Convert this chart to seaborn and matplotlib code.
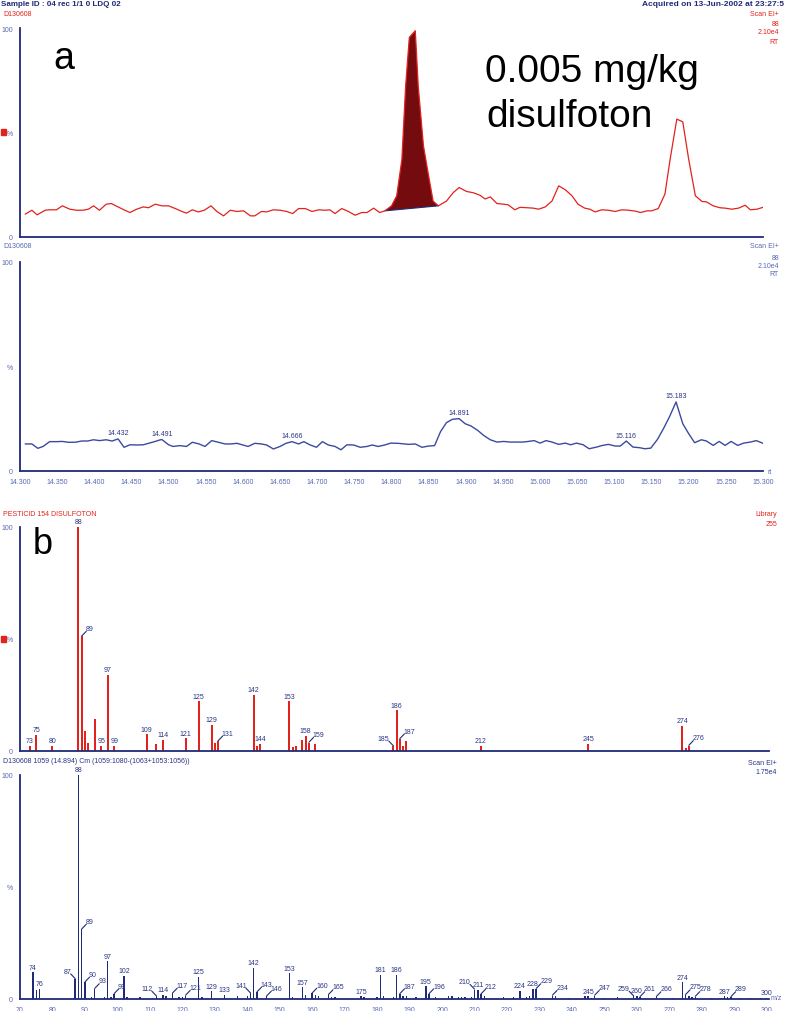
import numpy as np
import pandas as pd
import matplotlib
matplotlib.use("Agg")
import matplotlib.pyplot as plt
from matplotlib.ticker import MultipleLocator, FixedLocator, FuncFormatter
from matplotlib.patches import Rectangle
import seaborn as sns

sns.set_theme(style="white")
plt.rcParams['font.family'] = ['Liberation Sans', 'DejaVu Sans']

# ---------- data ----------
# (a) chromatogram, top trace (library / m/z 88), relative %
red_rt = [14.307, 14.316, 14.323, 14.334, 14.340, 14.349, 14.357, 14.367, 14.376, 14.385,
          14.392, 14.399, 14.407, 14.416, 14.423, 14.432, 14.441, 14.448, 14.457, 14.466,
          14.473, 14.482, 14.491, 14.500, 14.509, 14.518, 14.524, 14.532, 14.540, 14.548,
          14.557, 14.565, 14.574, 14.583, 14.592, 14.601, 14.610, 14.616, 14.625, 14.632,
          14.641, 14.650, 14.659, 14.667, 14.675, 14.684, 14.693, 14.702, 14.711, 14.717,
          14.724, 14.733, 14.742, 14.751, 14.760, 14.767, 14.776, 14.784, 14.791, 14.800,
          14.807, 14.814, 14.819, 14.824, 14.832, 14.836, 14.843, 14.850, 14.856, 14.863,
          14.874, 14.883, 14.891, 14.901, 14.910, 14.919, 14.926, 14.933, 14.942, 14.951,
          14.957, 14.966, 14.973, 14.982, 14.991, 14.998, 15.007, 15.016, 15.025, 15.034,
          15.043, 15.051, 15.060, 15.067, 15.074, 15.083, 15.092, 15.101, 15.110, 15.119,
          15.128, 15.135, 15.144, 15.150, 15.159, 15.168, 15.175, 15.184, 15.192, 15.200,
          15.209, 15.218, 15.224, 15.233, 15.242, 15.249, 15.258, 15.267, 15.276, 15.283,
          15.292, 15.300]
red_int = [10.7, 12.6, 10.4, 12.6, 12.8, 12.8, 14.7, 13.1, 12.6, 12.6,
           13.1, 14.7, 12.6, 15.5, 15.8, 14.2, 12.6, 11.5, 13.1, 14.2,
           13.8, 15.5, 14.7, 14.7, 13.4, 12.0, 11.2, 12.8, 11.8, 12.6,
           14.7, 12.0, 9.9, 12.6, 12.0, 12.3, 9.9, 9.9, 12.0, 11.8,
           12.8, 12.6, 12.0, 11.0, 13.4, 13.4, 12.0, 12.8, 12.6, 12.8,
           11.0, 13.4, 12.0, 10.2, 11.5, 11.5, 13.6, 11.5, 12.3, 14.7,
           19.5, 37.0, 72.0, 95.5, 98.7, 72.0, 43.5, 29.0, 17.0, 14.7,
           17.0, 21.0, 23.5, 21.6, 21.0, 19.8, 18.0, 19.0, 15.8, 15.5,
           15.2, 12.8, 14.0, 13.8, 13.6, 13.1, 14.2, 17.0, 24.3, 22.4,
           19.5, 15.5, 13.6, 13.1, 11.8, 12.8, 12.6, 12.0, 12.8, 12.6,
           12.2, 11.5, 12.3, 12.3, 13.4, 20.3, 37.0, 56.3, 55.0, 37.0,
           19.5, 16.8, 16.6, 14.7, 13.8, 13.6, 13.1, 13.6, 15.0, 12.8,
           13.1, 14.0]
peak_start, peak_end = 14.791, 14.863

# (a) chromatogram, bottom trace (sample / m/z 88)
blue_rt = [14.307, 14.316, 14.324, 14.331, 14.340, 14.349, 14.357, 14.365, 14.374, 14.383,
           14.391, 14.399, 14.407, 14.416, 14.424, 14.432, 14.440, 14.448, 14.457, 14.466,
           14.474, 14.482, 14.488, 14.491, 14.500, 14.506, 14.515, 14.524, 14.532, 14.541,
           14.549, 14.558, 14.567, 14.576, 14.584, 14.592, 14.600, 14.607, 14.616, 14.625,
           14.632, 14.641, 14.650, 14.658, 14.666, 14.675, 14.682, 14.690, 14.699, 14.707,
           14.715, 14.724, 14.732, 14.740, 14.749, 14.758, 14.767, 14.774, 14.782, 14.791,
           14.799, 14.809, 14.823, 14.832, 14.841, 14.850, 14.858, 14.866, 14.874, 14.882,
           14.891, 14.899, 14.907, 14.916, 14.924, 14.933, 14.942, 14.951, 14.960, 14.968,
           14.977, 14.984, 14.992, 15.000, 15.008, 15.016, 15.025, 15.034, 15.041, 15.049,
           15.058, 15.066, 15.076, 15.084, 15.092, 15.101, 15.108, 15.116, 15.125, 15.134,
           15.141, 15.149, 15.158, 15.166, 15.174, 15.183, 15.192, 15.200, 15.208, 15.217,
           15.224, 15.233, 15.241, 15.249, 15.257, 15.266, 15.274, 15.283, 15.291, 15.300]
blue_int = [12.8, 12.8, 10.7, 11.6, 13.9, 13.9, 14.0, 13.6, 13.6, 14.2,
            14.2, 14.8, 14.4, 14.8, 14.2, 15.2, 11.2, 12.4, 12.3, 12.4,
            13.2, 14.0, 14.7, 14.9, 12.4, 11.6, 12.0, 11.6, 13.6, 12.8,
            11.6, 14.4, 13.6, 12.8, 12.8, 13.1, 12.3, 11.6, 13.1, 12.8,
            12.3, 10.4, 11.6, 13.1, 13.9, 12.8, 13.9, 12.4, 11.2, 13.9,
            12.3, 11.6, 10.0, 12.4, 12.3, 11.2, 11.6, 12.3, 11.6, 12.3,
            13.2, 13.1, 12.6, 12.8, 11.2, 11.8, 12.0, 18.7, 23.0, 24.6,
            24.9, 22.5, 21.4, 19.3, 16.9, 14.8, 13.7, 14.0, 13.7, 13.7,
            13.7, 14.0, 14.4, 13.2, 14.4, 13.7, 12.6, 13.2, 12.4, 13.2,
            12.4, 10.5, 11.3, 12.1, 12.6, 11.8, 11.8, 14.2, 11.3, 11.0,
            10.5, 10.8, 15.0, 20.1, 25.7, 32.9, 22.5, 17.7, 13.4, 14.8,
            14.2, 12.1, 14.0, 12.1, 14.0, 12.1, 13.2, 13.7, 14.4, 13.1]
blue_peaks = [14.432, 14.491, 14.666, 14.891, 15.116, 15.183]

# (b) library spectrum of disulfoton
lib_mz = [73, 75, 80, 88, 89, 90, 91, 93, 95, 97, 99, 109, 112, 114, 121, 125, 129, 130, 131,
          142, 143, 144, 153, 154, 155, 157, 158, 159, 161, 185, 186, 187, 188, 189, 212, 245,
          274, 275, 276]
lib_int = [2.0, 7.0, 2.0, 100.0, 51.0, 8.6, 3.4, 14.0, 2.2, 34.0, 2.2, 7.3, 3.0, 5.0, 5.5, 22.0,
           11.5, 3.4, 4.2, 25.0, 2.0, 3.0, 22.0, 1.5, 2.0, 5.0, 6.5, 3.6, 3.0, 2.0, 18.0, 5.2,
           2.0, 4.2, 2.0, 3.0, 11.0, 1.3, 2.2]
lib_labels = [73, 75, 80, 88, 95, 97, 99, 109, 114, 121, 125, 129, 142, 144, 153, 158, 186,
              212, 245, 274]
lib_lead_right = [89, 131, 159, 187, 276]
lib_lead_left = [185]

# (b) sample spectrum, scan 1059 (14.894)
smp_mz = [74, 75, 76, 87, 88, 89, 90, 92, 93, 96, 97, 98, 99, 102, 103, 107, 112, 114, 115,
          117, 119, 120, 121, 125, 126, 129, 133, 137, 140, 141, 142, 143, 146, 153, 154, 157,
          158, 160, 161, 162, 165, 166, 167, 175, 176, 180, 181, 182, 185, 186, 187, 188, 189,
          192, 195, 196, 198, 202, 203, 205, 206, 207, 209, 210, 211, 212, 213, 215, 219, 222,
          224, 226, 227, 228, 229, 231, 234, 235, 239, 244, 245, 246, 247, 250, 254, 259, 260,
          261, 266, 271, 274, 275, 276, 277, 278, 283, 286, 287, 288, 289, 292, 295, 298, 300]
smp_int = [11.9, 4.0, 4.5, 8.9, 100.0, 31.0, 7.4, 0.7, 4.5, 1.0, 16.8, 1.0, 2.2, 10.4, 0.7,
           0.7, 1.2, 1.8, 1.5, 2.5, 0.9, 0.9, 1.5, 9.7, 0.7, 3.4, 1.8, 1.2, 1.5, 2.5, 13.8, 3.0,
           1.2, 11.4, 0.7, 5.2, 1.8, 2.5, 1.9, 1.2, 1.8, 1.0, 1.0, 1.2, 0.9, 0.9, 10.8, 1.5, 1.0,
           10.8, 2.2, 1.5, 1.5, 0.7, 5.6, 2.2, 0.7, 1.5, 1.5, 0.9, 0.9, 0.9, 0.9, 4.2, 4.0, 2.1,
           1.5, 0.6, 0.7, 0.7, 3.7, 1.0, 1.5, 4.5, 4.5, 0.6, 1.5, 1.2, 0.6, 1.2, 1.2, 0.6, 1.5,
           0.6, 0.9, 1.2, 1.5, 0.9, 0.9, 0.6, 7.4, 1.8, 1.2, 0.9, 1.0, 0.6, 0.6, 1.2, 0.9, 0.9,
           0.6, 0.6, 0.6, 0.6]
smp_labels = [74, 76, 88, 97, 102, 114, 125, 129, 133, 142, 153, 157, 175, 181, 186, 195, 211,
              224, 228, 245, 260, 274, 287, 300]
smp_lead_right = [89, 90, 93, 99, 117, 121, 143, 146, 160, 165, 187, 196, 212, 229, 234, 247,
                  261, 266, 275, 278, 289]
smp_lead_left = [87, 112, 141, 210, 259]

# ---------- style ----------
NAVY = '#1f2a78'
TXT = '#2a3585'
LBLUE = '#5a68b4'
BLUE = '#3c4a9e'
RED = '#e2221c'
DARKRED = '#740b0f'

W, H = 785, 1012
fig = plt.figure(figsize=(W / 100, H / 100), dpi=100)


def panel(left, top, bottom, right):
    return fig.add_axes([left / W, 1 - bottom / H, (right - left) / W, (bottom - top) / H])


def ftext(x, y, s, **kw):
    kw.setdefault('va', 'center')
    kw.setdefault('fontsize', 5)
    fig.text(x / W, 1 - y / H, s, **kw)


def style(ax, xlim, major, minor, label_step=None, fmt='{:.0f}'):
    sns.despine(ax=ax)
    for s in ['left', 'bottom']:
        ax.spines[s].set_color(NAVY)
        ax.spines[s].set_linewidth(1.3)
    ax.set_xlim(*xlim)
    ax.set_ylim(0, 100)
    ax.set_xlabel('')
    ax.set_ylabel('')
    ax.yaxis.set_major_locator(FixedLocator(list(range(0, 101, 10))))
    ax.yaxis.set_major_formatter(FuncFormatter(
        lambda v, p: {0: '0', 50: '%', 100: '100'}.get(int(round(v)), '')))
    ax.xaxis.set_major_locator(MultipleLocator(major))
    ax.xaxis.set_minor_locator(MultipleLocator(minor))

    def xf(v, p):
        if label_step is None:
            return ''
        k = v / label_step
        return fmt.format(v) if abs(k - round(k)) < 1e-6 else ''
    ax.xaxis.set_major_formatter(FuncFormatter(xf))
    ax.tick_params(axis='both', which='major', direction='out', length=4, width=0.8,
                   color=NAVY, labelsize=5, labelcolor=LBLUE, pad=1)
    ax.tick_params(axis='x', which='minor', direction='out', length=2.2, width=0.7, color=NAVY)
    ax.grid(False)
    ax.set_facecolor('none')


# ---------- panel a, top ----------
ax1 = panel(20, 29, 237.5, 763)
df_red = pd.DataFrame({'rt': red_rt, 'pct': red_int})
pk = df_red[(df_red.rt >= peak_start) & (df_red.rt <= peak_end)]
ax1.fill(pk.rt, pk.pct, color=DARKRED, zorder=1, linewidth=0)
ax1.plot([pk.rt.iloc[0], pk.rt.iloc[-1]], [pk.pct.iloc[0], pk.pct.iloc[-1]],
         color=NAVY, linewidth=0.8, zorder=2)
sns.lineplot(data=df_red, x='rt', y='pct', ax=ax1, color=RED, linewidth=0.9,
             estimator=None, zorder=3)
style(ax1, (14.3, 15.3), 0.025, 0.005)

# ---------- panel a, bottom ----------
ax2 = panel(20, 262.7, 471.7, 763)
df_blue = pd.DataFrame({'rt': blue_rt, 'pct': blue_int})
sns.lineplot(data=df_blue, x='rt', y='pct', ax=ax2, color=BLUE, linewidth=1.0, estimator=None)
style(ax2, (14.3, 15.3), 0.025, 0.005, label_step=0.05, fmt='{:.3f}')
for t in blue_peaks:
    v = df_blue.loc[(df_blue.rt - t).abs().idxmin(), 'pct']
    ax2.text(t, v + 1.2, f'{t:.3f}', ha='center', va='bottom', fontsize=5, color=TXT)


# ---------- spectra ----------
def spectrum(ax, mz, inten, color, shrink, labels, lead_r, lead_l, show_labels):
    sns.histplot(x=mz, weights=inten, discrete=True, shrink=shrink, color=color, alpha=1,
                 linewidth=0, ax=ax)
    style(ax, (70, 300.7), 5, 1, label_step=10 if show_labels else None)
    h = dict(zip(mz, inten))
    for m in labels:
        ax.text(m, h[m] + 0.8, str(m), ha='center', va='bottom', fontsize=5, color=TXT)
    for m in lead_r + lead_l:
        d = 1 if m in lead_r else -1
        ax.plot([m, m + d * 1.4], [h[m] + 0.2, h[m] + 2.3], color=NAVY, linewidth=0.8,
                clip_on=False)
        ax.text(m + d * 1.2, h[m] + 2.0, str(m), ha='left' if d > 0 else 'right',
                va='bottom', fontsize=5, color=TXT)


ax3 = panel(20, 527.7, 751.7, 769)
spectrum(ax3, lib_mz, lib_int, RED, 0.6, lib_labels, lib_lead_right, lib_lead_left, False)

ax4 = panel(20, 775.7, 1000, 769)
spectrum(ax4, smp_mz, smp_int, NAVY, 0.45, smp_labels, smp_lead_right, smp_lead_left, True)

# ---------- texts ----------
ftext(1, 5, 'Sample ID : 04 rec 1/1 0 LDQ 02', fontsize=5.8, color=NAVY, weight='bold')
ftext(784, 5, 'Acquired on 13-Jun-2002 at 23:27:5', fontsize=6, color=NAVY,
      weight='bold', ha='right')
ftext(3, 15, 'D130608', color=RED)
for y, s in zip([15, 24, 33, 42], ['Scan EI+', '88', '2.10e4', 'RT']):
    ftext(779, y, s, color=RED, ha='right')
ftext(53, 69, 'a', fontsize=27, va='baseline', color='black')
ftext(485, 82, '0.005 mg/kg', fontsize=28, va='baseline', color='black')
ftext(486, 127, 'disulfoton', fontsize=28, va='baseline', color='black')

ftext(3, 246, 'D130608', color=LBLUE)
for y, s in zip([247, 258, 267, 275], ['Scan EI+', '88', '2.10e4', 'RT']):
    ftext(779, y, s, color=LBLUE, ha='right')
ftext(767, 473, 'rt', color=LBLUE)

ftext(3, 515, 'PESTICID 154 DISULFOTON', color=RED)
ftext(777, 515, 'Library', color=RED, ha='right')
ftext(777, 524, '255', color=RED, ha='right')
ftext(33, 554, 'b', fontsize=26, va='baseline', color='black')

ftext(3, 762, 'D130608 1059 (14.894) Cm (1059:1080-(1063+1053:1056))', color=TXT)
ftext(777, 764, 'Scan EI+', color=TXT, ha='right')
ftext(777, 773, '1.75e4', color=TXT, ha='right')
ftext(771, 999, 'm/z', color=LBLUE)

for yc in [133, 640]:
    fig.add_artist(Rectangle((1 / W, 1 - (yc + 3) / H), 5 / W, 6 / H,
                             transform=fig.transFigure, color=RED))

fig.savefig('out.png', dpi=100, facecolor='white')
